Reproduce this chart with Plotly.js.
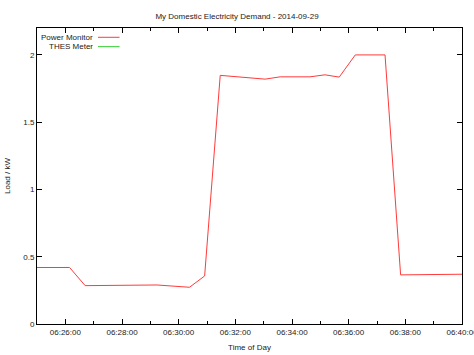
<!DOCTYPE html>
<html><head><meta charset="utf-8">
<script src="https://cdn.plot.ly/plotly-3.0.1.min.js"></script>
<style>html,body{margin:0;padding:0;background:#fff}#chart{width:474px;height:355px}</style>
</head><body><div id="chart"></div>
<script>
const day = '2014-09-29';
const times = ['06:25:00','06:26:09','06:26:42','06:29:14','06:30:23','06:30:55','06:31:28','06:33:03','06:33:35','06:34:38','06:35:10','06:35:40','06:36:14','06:37:17','06:37:50','06:38:52','06:40:00'];
const powerMonitor = [0.42,0.42,0.285,0.29,0.273,0.357,1.848,1.82,1.837,1.837,1.852,1.835,2.0,2.0,0.365,0.37,0.37];
const thesTimes = [];
const thesMeter = [];
const xTickLabelsEvery = 120000;

const font = {family:'Liberation Sans, Arial, sans-serif', size:8, color:'#222'};
const traces = [
  {x: times.map(t=>day+' '+t), y: powerMonitor, type:'scatter', mode:'lines', name:'Power Monitor',
   line:{color:'#ff3a3a', width:1}, showlegend:false},
  {x: thesTimes, y: thesMeter, type:'scatter', mode:'lines', name:'THES Meter',
   line:{color:'#33cc33', width:1}, showlegend:false}
];
const layout = {
  width:474, height:355,
  margin:{l:36.7, r:12, t:28, b:30.5},
  paper_bgcolor:'#fff', plot_bgcolor:'#fff',
  font: font,
  title:{text:'My Domestic Electricity Demand - 2014-09-29', font:{family:font.family,size:8,color:'#222'}, x:0.5, xanchor:'center', y:1-16/355, yanchor:'middle'},
  xaxis:{type:'date', range:[day+' 06:25:00', day+' 06:40:00'], tick0:day+' 06:26:00', dtick:xTickLabelsEvery,
    tickformat:'%H:%M:%S', ticks:'inside', ticklen:5, tickcolor:'#000', showline:true, linecolor:'#000', linewidth:1,
    mirror:'ticks', showgrid:false, zeroline:false, ticklabeloverflow:'allow',
    minor:{ticks:'inside', dtick:60000, ticklen:3, tickcolor:'#000', showgrid:false},
    title:{text:'Time of Day', font:font, standoff:8}, tickfont:font},
  yaxis:{range:[0,2.2], dtick:0.5, ticks:'inside', ticklen:5, tickcolor:'#000', showline:true, linecolor:'#000', linewidth:1,
    mirror:'ticks', showgrid:false, zeroline:false, title:{text:'Load / kW', font:font, standoff:11}, tickfont:font},
  annotations:[
    {xref:'paper', yref:'paper', x:(95-36.7)/425.3, y:1-(37.3-28)/296.5, text:'Power Monitor', showarrow:false, xanchor:'right', yanchor:'middle', font:font},
    {xref:'paper', yref:'paper', x:(95-36.7)/425.3, y:1-(46.7-28)/296.5, text:'THES Meter', showarrow:false, xanchor:'right', yanchor:'middle', font:font}
  ],
  shapes:[
    {type:'line', xref:'paper', yref:'paper', x0:(97.7-36.7)/425.3, x1:(119.3-36.7)/425.3, y0:1-(37.3-28)/296.5, y1:1-(37.3-28)/296.5, line:{color:'#ff3a3a', width:1}},
    {type:'line', xref:'paper', yref:'paper', x0:(97.7-36.7)/425.3, x1:(119.3-36.7)/425.3, y0:1-(46.7-28)/296.5, y1:1-(46.7-28)/296.5, line:{color:'#33cc33', width:1}}
  ]
};
Plotly.newPlot('chart', traces, layout, {staticPlot:true, displayModeBar:false});
</script></body></html>
